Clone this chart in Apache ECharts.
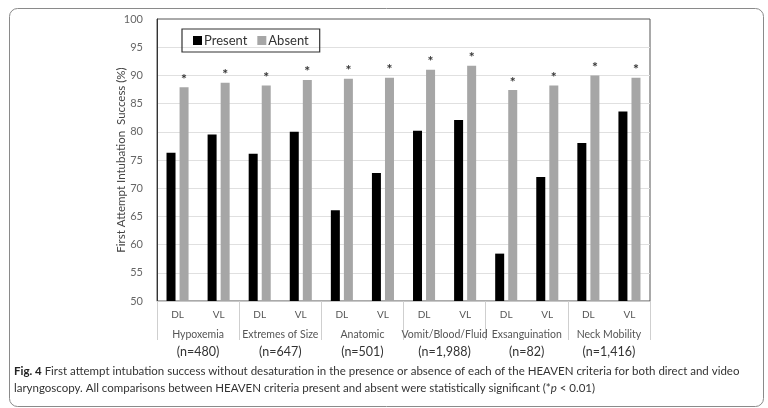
<!DOCTYPE html>
<html>
<head>
<meta charset="utf-8">
<script src="https://cdn.jsdelivr.net/npm/echarts@6/dist/echarts.min.js"></script>
<style>
  html, body { margin: 0; padding: 0; background: #fff; }
  #chart { width: 768px; height: 408px; }
</style>
</head>
<body>
<div id="chart"></div>
<script>
// data
var scopes = ["DL", "VL", "DL", "VL", "DL", "VL", "DL", "VL", "DL", "VL", "DL", "VL"];
var groups = ["Hypoxemia", "Extremes of Size", "Anatomic", "Vomit/Blood/Fluid", "Exsanguination", "Neck Mobility"];
var groupN = ["(n=480)", "(n=647)", "(n=501)", "(n=1,988)", "(n=82)", "(n=1,416)"];
var present = [76.3, 79.5, 76.1, 80.0, 66.1, 72.7, 80.2, 82.1, 58.4, 72.0, 78.0, 83.6];
var absent = [87.9, 88.7, 88.2, 89.2, 89.4, 89.6, 91.0, 91.7, 87.4, 88.2, 90.0, 89.6];
var yTicks = [50, 100, 5]; // min, max, step

var myChart = echarts.init(document.getElementById("chart"));
var font = "Lato";

var option = {
  backgroundColor: "#fff",
  animation: false,
  textStyle: { fontFamily: font },
  grid: {
    left: 157,
    right: 118,
    top: 19,
    bottom: 107,
    show: true,
    borderColor: "#555",
    borderWidth: 1
  },
  legend: {
    left: 182,
    top: 29,
    itemWidth: 9,
    itemHeight: 9,
    itemGap: 10,
    padding: [5, 11, 5, 11],
    borderColor: "#333",
    borderWidth: 1.2,
    icon: "rect",
    textStyle: { fontFamily: font, fontSize: 13, color: "#333", padding: [0, 0, 0, -3] },
    data: ["Present", "Absent"]
  },
  xAxis: [
    {
      type: "category",
      data: scopes,
      position: "bottom",
      axisLine: { lineStyle: { color: "#c8c8c8" } },
      axisTick: { show: false },
      axisLabel: { color: "#555", fontSize: 10, margin: 9 }
    },
    {
      type: "category",
      data: groups,
      position: "bottom",
      axisLine: { show: false },
      axisTick: { show: true, length: 39, interval: 0, lineStyle: { color: "#cfcfcf" } },
      axisLabel: {
        interval: 0,
        margin: 25,
        formatter: function (v, i) {
          return "{a|" + v + "}\n{b|" + groupN[i] + "}";
        },
        rich: {
          a: { fontSize: 10.5, color: "#555", lineHeight: 17, fontFamily: font },
          b: { fontSize: 12.5, color: "#333", lineHeight: 17, fontFamily: font }
        }
      }
    }
  ],
  yAxis: {
    type: "value",
    min: yTicks[0],
    max: yTicks[1],
    interval: yTicks[2],
    name: "First Attempt Intubation  Success (%)",
    nameLocation: "middle",
    nameGap: 30,
    nameMoveOverlap: false,
    nameTextStyle: { fontSize: 11.5, color: "#444", fontFamily: font },
    axisLine: { show: true, lineStyle: { color: "#333" } },
    axisTick: { show: false },
    axisLabel: { color: "#666", fontSize: 11, margin: 14 },
    splitLine: { showMaxLine: false, showMinLine: false, lineStyle: { color: "#e0e0e0", type: "solid" } }
  },
  series: [
    {
      name: "Present",
      type: "bar",
      data: present,
      barWidth: 9,
      barGap: "45%",
      itemStyle: { color: "#000" }
    },
    {
      name: "Absent",
      type: "bar",
      data: absent,
      barWidth: 9,
      itemStyle: { color: "#a6a6a6" },
      label: {
        show: true,
        position: "top",
        distance: 1,
        formatter: "*",
        fontSize: 14,
        fontWeight: "bold",
        color: "#333"
      }
    }
  ],
  graphic: [
    {
      type: "rect",
      left: 7,
      top: 6,
      shape: { width: 754, height: 398, r: 8 },
      style: { fill: "none", stroke: "#8a8a8a", lineWidth: 1 },
      z: -1
    },
    {
      type: "text",
      left: 14,
      top: 363,
      style: {
        text: "{b|Fig. 4} First attempt intubation success without desaturation in the presence or absence of each of the HEAVEN criteria for both direct and video\nlaryngoscopy. All comparisons between HEAVEN criteria present and absent were statistically significant (*{i|p} < 0.01)",
        fontFamily: font,
        fontSize: 11.5,
        lineHeight: 17,
        fill: "#333",
        rich: {
          b: { fontWeight: "bold", fontSize: 11.5, fontFamily: font, fill: "#222" },
          i: { fontStyle: "italic", fontSize: 11.5, fontFamily: font }
        }
      }
    }
  ]
};

myChart.setOption(option);
</script>
</body>
</html>
